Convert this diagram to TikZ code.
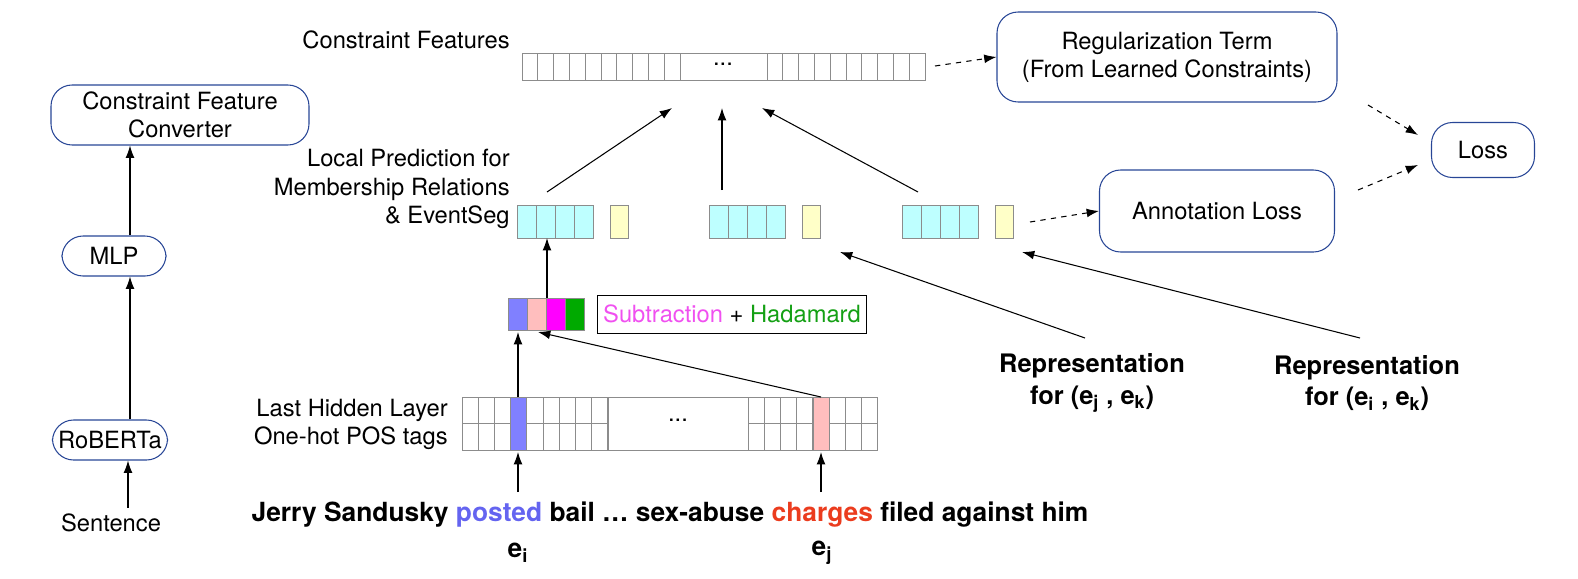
\documentclass[tikz,border=0pt]{standalone}
\usepackage{fontspec}
\setmainfont{TeX Gyre Heros}
\usetikzlibrary{arrows.meta}
\definecolor{cy}{RGB}{190,255,255}
\definecolor{ye}{RGB}{255,255,200}
\definecolor{pu}{RGB}{128,128,255}
\definecolor{pk}{RGB}{255,190,190}
\definecolor{mg}{RGB}{255,0,255}
\definecolor{gr}{RGB}{0,170,0}
\definecolor{sub}{RGB}{240,80,240}
\definecolor{had}{RGB}{20,160,20}
\definecolor{chg}{RGB}{235,60,30}
\definecolor{pst}{RGB}{100,100,240}
\definecolor{bx}{RGB}{40,70,150}
\begin{document}
\begin{tikzpicture}[x=0.02cm,y=-0.02cm,
  font=\fontsize{13.5}{16}\selectfont,
  box/.style={draw=bx, line width=0.6pt, rounded corners=12pt, align=center, inner sep=0pt},
  cell/.style={draw=black!45, line width=0.5pt},
  arr/.style={-{Latex[length=7pt,width=5pt]}, line width=0.6pt},
  darr/.style={arr, dashed},
  lbl/.style={align=right, anchor=east, inner sep=0pt},
  rep/.style={align=center, font=\fontsize{14.5}{18}\selectfont\bfseries}]
\useasboundingbox (0,0) rectangle (1578,578);

% left pipeline
\node (sent) at (111,523) {Sentence};
\node[box, minimum width=115*0.02cm, minimum height=40*0.02cm] (rob) at (110,440) {RoBERTa};
\node[box, minimum width=104*0.02cm, minimum height=40*0.02cm] (mlp) at (114,256) {MLP};
\node[box, minimum width=258*0.02cm, minimum height=60*0.02cm] (conv) at (180,115) {Constraint Feature\\Converter};
\draw[arr] (sent.north -| 128,0) -- (rob.south -| 128,0);
\draw[arr] (rob.north -| 130,0) -- (mlp.south -| 130,0);
\draw[arr] (mlp.north -| 130,0) -- (conv.south -| 130,0);

% constraint features
\foreach \i in {0,...,9} \draw[cell] (522+\i*15.8,53) rectangle ++(15.8,27);
\foreach \i in {0,...,9} \draw[cell] (767+\i*15.8,53) rectangle ++(15.8,27);
\draw[cell] (680,53) rectangle (767,80);
\node (cfd) at (723,64) {...};
\node[lbl] at (510,40) {Constraint Features};

% regularization, loss
\node[box, minimum width=340*0.02cm, minimum height=90*0.02cm] (reg) at (1167,57) {Regularization Term\\(From Learned Constraints)};
\node[box, minimum width=103*0.02cm, minimum height=55*0.02cm] (loss) at (1483,150) {Loss};
\node[box, minimum width=235*0.02cm, minimum height=82*0.02cm] (ann) at (1217,211) {Annotation Loss};
\coordinate (cfe) at (935,66);
\draw[darr] (cfe) -- (reg.west);
\draw[darr] (1368,105) -- (1418,135);
\draw[darr] (1358,190) -- (1418,165);

% local predictions
\node[lbl] at (510,189) {Local Prediction for\\Membership Relations\\\& EventSeg};
\foreach \g/\x in {a/517,b/709,c/902}{
  \foreach \i in {0,...,3} \draw[cell, fill=cy] (\x+\i*19,205) rectangle ++(19,33);
  \draw[cell, fill=ye] (\x+93,205) rectangle ++(18,33);
  \coordinate (\g t) at (\x+30,192);
  \coordinate (\g b) at (\x+30,238);
}
\draw[darr] (1030,222) -- (ann.west);
\draw[arr] (at) -- (672,108);
\draw[arr] (722,190) -- (722,108);
\draw[arr] (918,192) -- (762,108);

% combined vector
\draw[cell, fill=pu] (508,298) rectangle ++(19,32);
\draw[cell, fill=pk] (527,298) rectangle ++(19,32);
\draw[cell, fill=mg] (546,298) rectangle ++(19,32);
\draw[cell, fill=gr] (565,298) rectangle ++(19,32);
\coordinate (comb) at (547,298);
\draw[arr] (comb) -- (ab);
\node[draw, minimum width=252*0.02cm, minimum height=38*0.02cm] (op) at (732,314)
  {\textcolor{sub}{Subtraction} + \textcolor{had}{Hadamard}};

% hidden layer
\foreach \r in {0,1}{
  \foreach \i in {0,...,8} \draw[cell] (462+\i*16.2,397+\r*26.5) rectangle ++(16.2,26.5);
  \foreach \i in {0,...,7} \draw[cell] (748+\i*16.2,397+\r*26.5) rectangle ++(16.2,26.5);
}
\draw[cell] (608,397) rectangle (748,450);
\node at (678,420) {...};
\draw[cell, fill=pu] (510.6,397) rectangle ++(16.2,53);
\draw[cell, fill=pk] (813,397) rectangle ++(16.2,53);
\node[lbl] at (448,424) {Last Hidden Layer\\One-hot POS tags};
\draw[arr] (518,397) -- (518,332);
\draw[arr] (821,397) -- (538,332);

% sentence
\node[font=\fontsize{15}{18}\selectfont\bfseries] (txt) at (670,515)
  {Jerry Sandusky \textcolor{pst}{posted} bail … sex-abuse \textcolor{chg}{charges} filed against him};
\node[font=\fontsize{15}{18}\selectfont\bfseries] (ei) at (518,553) {e\textsubscript{i}};
\node[font=\fontsize{15}{18}\selectfont\bfseries] (ej) at (822,553) {e\textsubscript{j}};
\draw[arr] (518,492) -- (518,452);
\draw[arr] (821,492) -- (821,452);

% representations
\node[rep] (r1) at (1092,383) {Representation\\for (e\textsubscript{j} , e\textsubscript{k})};
\node[rep] (r2) at (1367,383) {Representation\\for (e\textsubscript{i} , e\textsubscript{k})};
\draw[arr] (1085,338) -- (840,252);
\draw[arr] (1360,338) -- (1022,252);
\end{tikzpicture}
\end{document}
